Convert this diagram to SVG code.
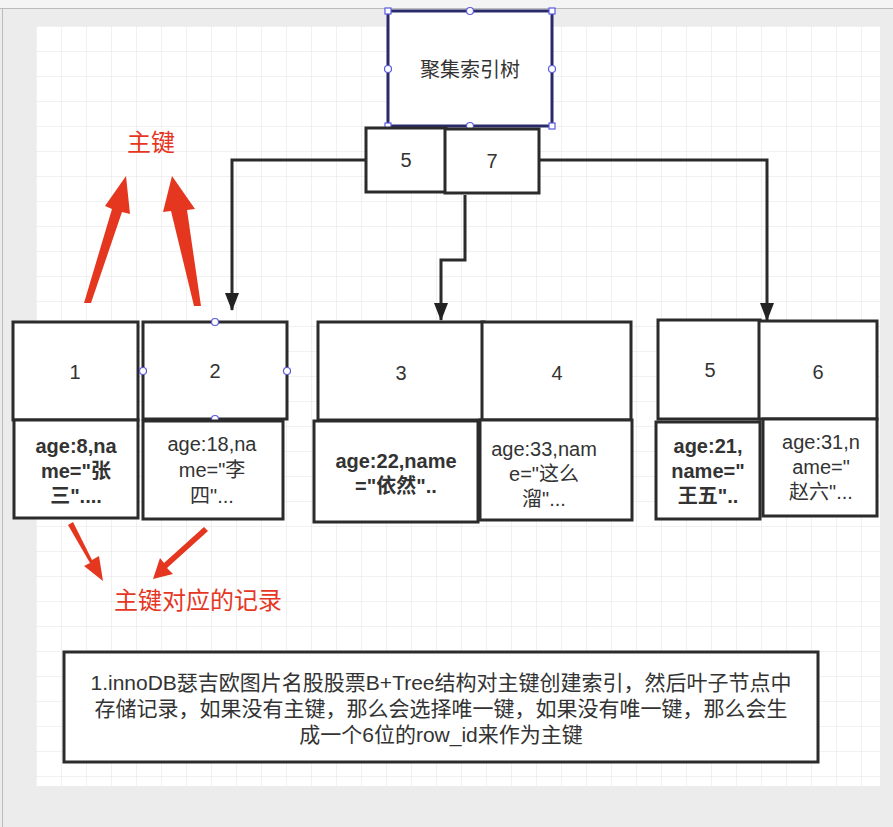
<svg xmlns="http://www.w3.org/2000/svg" width="893" height="827" viewBox="0 0 893 827">
<defs>
<pattern id="grid" x="36" y="26" width="25" height="25" patternUnits="userSpaceOnUse">
<path d="M0 0H25M0 0V25" fill="none" stroke="#e3e3e3" stroke-width="1"/>
</pattern>
<marker id="ah" viewBox="0 0 14 18" refX="7" refY="17" markerWidth="14" markerHeight="18" orient="0" markerUnits="userSpaceOnUse"><path d="M0 0L14 0L7 18z" fill="#222"/></marker>
<style>
.b{fill:#fff;stroke:#2b2b2b;stroke-width:3}
.t{font-family:"Liberation Sans","Noto Sans CJK SC",sans-serif;font-size:20px;fill:#333;text-anchor:middle}
.bo{font-weight:bold}
.c{fill:none;stroke:#2b2b2b;stroke-width:3}
.r{fill:#e5371f}
.rt{font-family:"Liberation Sans","Noto Sans CJK SC",sans-serif;font-size:24px;fill:#e5371f;text-anchor:middle}
.h{fill:#fff;stroke:#5a5ae0;stroke-width:1.2}
</style>
</defs>
<rect width="893" height="827" fill="#ececec"/>
<rect x="0" y="0" width="893" height="8" fill="#f4f4f4"/>
<line x1="0" y1="8.5" x2="893" y2="8.5" stroke="#bbb"/>
<line x1="2.5" y1="9" x2="2.5" y2="827" stroke="#bbb"/>
<rect x="36" y="26" width="844" height="760" fill="#fff"/>
<rect x="36" y="26" width="844" height="760" fill="url(#grid)"/>
<g id="connectors">
<path class="c" d="M366 160H232V310" marker-end="url(#ah)"/>
<path class="c" d="M465 195V260H441V320" marker-end="url(#ah)"/>
<path class="c" d="M540 160H767V320" marker-end="url(#ah)"/>
</g>
<g id="root"><rect x="388" y="11" width="164" height="115" fill="#fff" stroke="#2a2a6a" stroke-width="3"/><text class="t" x="470" y="77">聚集索引树</text>
<rect class="h" x="385" y="8" width="6" height="6"/><rect class="h" x="549" y="8" width="6" height="6"/><rect class="h" x="385" y="123" width="6" height="6"/><rect class="h" x="549" y="123" width="6" height="6"/>
<circle class="h" cx="470" cy="11" r="3.5"/><circle class="h" cx="470" cy="126" r="3.5"/><circle class="h" cx="388" cy="69" r="3.5"/><circle class="h" cx="552" cy="69" r="3.5"/></g>
<g id="k5"><rect class="b" x="366" y="128" width="80" height="64"/><text class="t" x="406" y="167">5</text></g>
<g id="k7"><rect class="b" x="445" y="129" width="94" height="64"/><text class="t" x="492" y="168">7</text></g>
<g id="n1"><rect class="b" x="13" y="322" width="125" height="98"/><text class="t" x="75" y="379">1</text></g>
<g id="r1"><rect class="b" x="14" y="420" width="124" height="98"/><text class="t bo" x="76" y="453">age:8,na</text><text class="t bo" x="76" y="478">me="张</text><text class="t bo" x="76" y="503">三"....</text></g>
<g id="n2"><rect class="b" x="143" y="322" width="144" height="97"/><text class="t" x="215" y="378">2</text>
<circle class="h" cx="215" cy="322" r="3.5"/><circle class="h" cx="143" cy="371" r="3.5"/><circle class="h" cx="287" cy="371" r="3.5"/><circle class="h" cx="215" cy="419" r="3.5"/></g>
<g id="r2"><rect class="b" x="143" y="421" width="140" height="98"/><text class="t" x="212" y="451">age:18,na</text><text class="t" x="212" y="477">me="李</text><text class="t" x="212" y="503">四"...</text></g>
<g id="n3"><rect class="b" x="318" y="322" width="166" height="98"/><text class="t" x="401" y="380">3</text></g>
<g id="r3"><rect class="b" x="314" y="421" width="164" height="101"/><text class="t bo" x="396" y="468">age:22,name</text><text class="t bo" x="396" y="493">="依然"..</text></g>
<g id="n4"><rect class="b" x="482" y="322" width="149" height="98"/><text class="t" x="557" y="380">4</text></g>
<g id="r4"><rect class="b" x="480" y="420" width="152" height="100"/><text class="t" x="544" y="456">age:33,nam</text><text class="t" x="544" y="481">e="这么</text><text class="t" x="544" y="506">溜"...</text></g>
<g id="n5"><rect class="b" x="658" y="320" width="102" height="99"/><text class="t" x="710" y="377">5</text></g>
<g id="r5"><rect class="b" x="656" y="422" width="104" height="97"/><text class="t bo" x="708" y="453">age:21,</text><text class="t bo" x="708" y="478">name="</text><text class="t bo" x="708" y="503">王五"..</text></g>
<g id="n6"><rect class="b" x="759" y="321" width="118" height="98"/><text class="t" x="818" y="379">6</text></g>
<g id="r6"><rect class="b" x="763" y="419" width="114" height="97"/><text class="t" x="821" y="449">age:31,n</text><text class="t" x="821" y="474">ame="</text><text class="t" x="821" y="499">赵六"...</text></g>
<g id="pk"><text class="rt" x="151" y="151">主键</text>
<path class="r" d="M84 303L91 303L122 212L130 214L126 176L105 206L112 209Z"/>
<path class="r" d="M194 306L201 306L187 210L195 209L172 176L163 212L171 211Z"/></g>
<g id="rec"><text class="rt" x="198" y="609">主键对应的记录</text>
<path class="r" d="M68 525L73 522L92 560L99 556L103 581L84 566L90 563Z"/>
<path class="r" d="M204 527L208 531L167 568L173 574L153 579L160 558L164 563Z"/></g>
<g id="note"><rect class="b" x="64" y="652" width="754" height="110"/>
<text class="t" x="441" y="690" style="font-size:21px">1.innoDB瑟吉欧图片名股股票B+Tree结构对主键创建索引，然后叶子节点中</text>
<text class="t" x="441" y="716" style="font-size:21px">存储记录，如果没有主键，那么会选择唯一键，如果没有唯一键，那么会生</text>
<text class="t" x="441" y="742" style="font-size:21px">成一个6位的row_id来作为主键</text></g>
</svg>
